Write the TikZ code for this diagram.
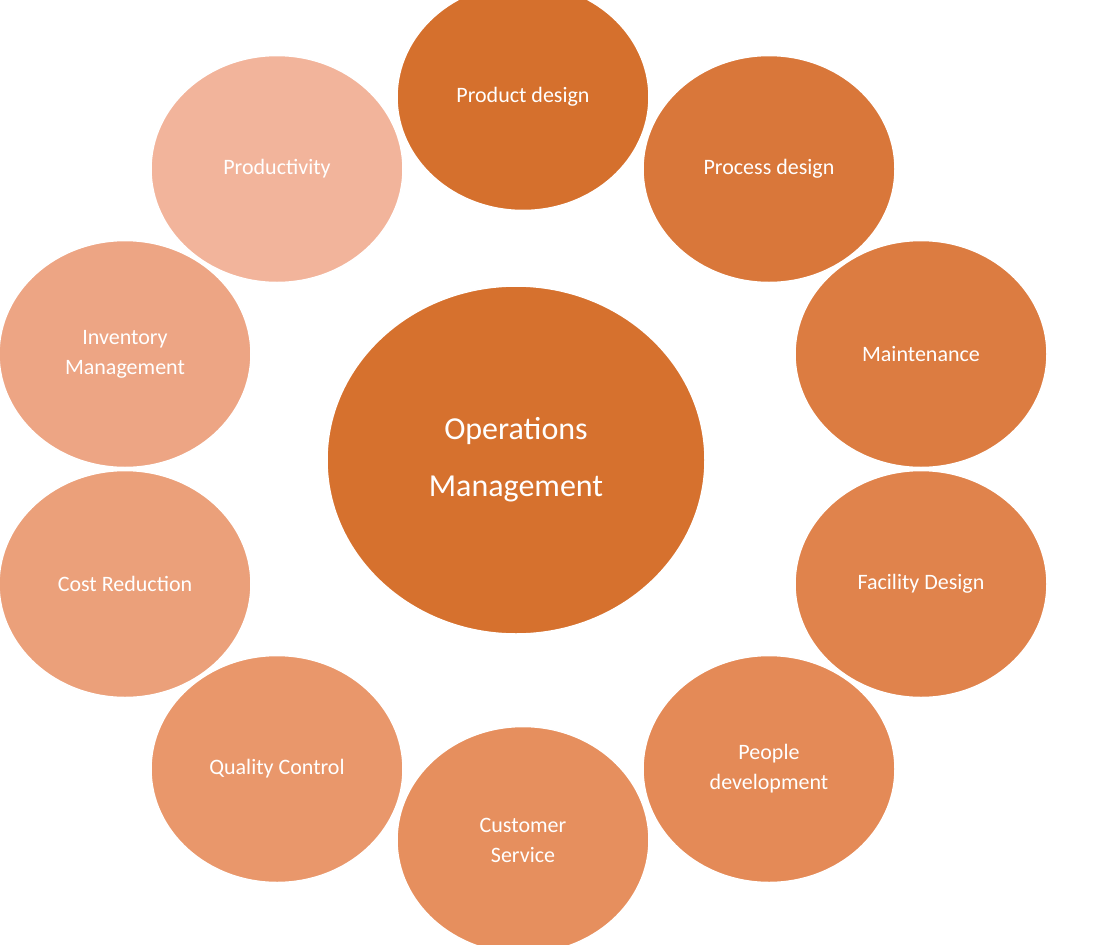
\documentclass[tikz,border=0pt]{standalone}
\usepackage{fontspec}
\setmainfont{Carlito}
\begin{document}
\begin{tikzpicture}[x=1pt,y=-1pt]
\tikzset{bub/.style={ellipse, draw=white, line width=1.5pt, text=white, align=center, minimum width=252pt, minimum height=227pt, inner sep=0pt, font=\fontsize{22}{30}\selectfont}}
\usetikzlibrary{shapes.geometric}
\useasboundingbox (0,0) rectangle (1096,945);
\definecolor{c0}{HTML}{D6712E}
\definecolor{c1}{HTML}{D5702D}
\definecolor{c2}{HTML}{D9773A}
\definecolor{c3}{HTML}{DC7C41}
\definecolor{c4}{HTML}{E0834C}
\definecolor{c5}{HTML}{E48A57}
\definecolor{c6}{HTML}{E68F5E}
\definecolor{c7}{HTML}{E9976B}
\definecolor{c8}{HTML}{EBA07A}
\definecolor{c9}{HTML}{EDA584}
\definecolor{c10}{HTML}{F2B49B}
\node[bub, fill=c0, minimum width=378pt, minimum height=348pt, font=\fontsize{32}{57}\selectfont] (om) at (516,460) {Operations\\Management};
\node[bub, fill=c1] (pd) at (523,97) {Product design};
\node[bub, fill=c2] (pr) at (769,169) {Process design};
\node[bub, fill=c3] (mt) at (921,354) {Maintenance};
\node[bub, fill=c4] (fd) at (921,584) {Facility Design};
\node[bub, fill=c5] (pe) at (769,769) {People\\development};
\node[bub, fill=c6] (cs) at (523,840) {Customer\\Service};
\node[bub, fill=c7] (qc) at (277,769) {Quality Control};
\node[bub, fill=c8] (cr) at (125,584) {Cost Reduction};
\node[bub, fill=c9] (im) at (125,354) {Inventory\\Management};
\node[bub, fill=c10] (py) at (277,169) {Productivity};
\end{tikzpicture}
\end{document}
